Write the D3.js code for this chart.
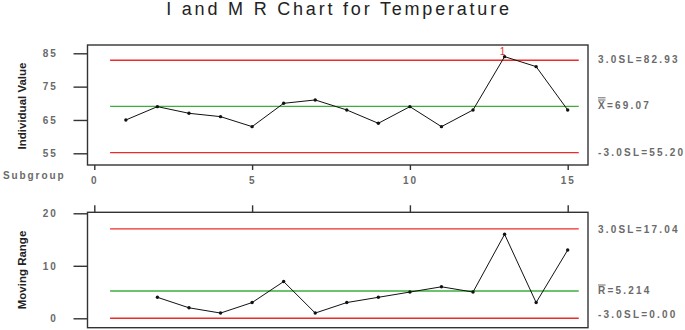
<!DOCTYPE html>
<html>
<head>
<meta charset="utf-8">
<script src="https://cdn.jsdelivr.net/npm/d3@7"></script>
<style>
  body { margin: 0; background: #fff; }
  svg text { font-family: "Liberation Sans", Arial, sans-serif; }
</style>
</head>
<body>
<svg id="chart"></svg>
<script>
// data
const subgroups = d3.range(1, 16);
const individual = [65, 69, 67, 66, 63, 70, 71, 68, 64, 69, 63, 68, 84, 81, 68];
const movingRange = [4, 2, 1, 3, 7, 1, 3, 4, 5, 6, 5, 16, 3, 13]; // subgroups 2..15
const iLimits = [82.93, 69.07, 55.20];
const iLimitLabels = ["3.0SL=82.93", "=69.07", "-3.0SL=55.20"];
const mrLimits = [17.04, 5.214, 0];
const mrLimitLabels = ["3.0SL=17.04", "=5.214", "-3.0SL=0.00"];
const xTicks = [0, 5, 10, 15];
const iTicks = [55, 65, 75, 85];
const mrTicks = [0, 10, 20];
const failed = [{ x: 13, label: "1" }];

const width = 685, height = 330;
const svg = d3.select("#chart").attr("width", width).attr("height", height);

const red = "#ee2b2b", green = "#3cae3c", labelGrey = "#6a6a6a";
const boxLeft = 87.5, boxRight = 588;

const x = d3.scaleLinear().domain([0, 15]).range([94.3, 567.7]);

// title
svg.append("text")
    .attr("x", 339).attr("y", 15)
    .attr("text-anchor", "middle")
    .attr("font-size", 18)
    .attr("letter-spacing", 2.8)
    .attr("fill", "#222")
    .text("I and M R Chart for Temperature");

function panel(opts) {
    const y = d3.scaleLinear().domain(opts.domain).range(opts.range);
    const g = svg.append("g");

    // control limits
    opts.limits.forEach((v, i) => {
        g.append("line")
            .attr("x1", x(0.5)).attr("x2", x(15.35))
            .attr("y1", y(v)).attr("y2", y(v))
            .attr("stroke", i === 1 ? green : red)
            .attr("stroke-width", 1.4);
    });

    // data line + points
    const line = d3.line().x(d => x(d.x)).y(d => y(d.v));
    g.append("path")
        .datum(opts.data)
        .attr("d", line)
        .attr("fill", "none")
        .attr("stroke", "#111")
        .attr("stroke-width", 1);
    g.selectAll("circle.pt")
        .data(opts.data)
        .enter().append("circle")
        .attr("class", "pt")
        .attr("cx", d => x(d.x)).attr("cy", d => y(d.v))
        .attr("r", 1.7)
        .attr("fill", "#111");

    // frame
    g.append("rect")
        .attr("x", boxLeft).attr("y", opts.top)
        .attr("width", boxRight - boxLeft).attr("height", opts.bottom - opts.top)
        .attr("fill", "none").attr("stroke", "#333").attr("stroke-width", 1.4);

    // y axis
    const yAxis = g.append("g")
        .attr("transform", `translate(${boxLeft},0)`)
        .call(d3.axisLeft(y).tickValues(opts.ticks).tickSize(14).tickPadding(16));
    yAxis.select(".domain").remove();
    yAxis.selectAll("line").attr("stroke", "#333").attr("stroke-width", 1.4);
    yAxis.selectAll("text")
        .attr("font-size", 10).attr("font-weight", "bold")
        .attr("letter-spacing", 1.8).attr("fill", labelGrey);

    // y title
    g.append("text")
        .attr("transform", `translate(26,${opts.titleY}) rotate(-90)`)
        .attr("text-anchor", "middle")
        .attr("font-size", 11.5).attr("font-weight", "bold").attr("fill", "#222")
        .text(opts.title);

    // limit labels on the right
    opts.limits.forEach((v, i) => {
        const t = g.append("text")
            .attr("x", 598).attr("y", opts.labelY[i])
            .attr("font-size", 10).attr("font-weight", "bold")
            .attr("letter-spacing", 2.2).attr("fill", labelGrey);
        if (i === 1) {
            t.append("tspan").text(opts.centerSym);
            t.append("tspan").text(opts.labels[i]);
            for (let k = 0; k < opts.bars; k++) {
                g.append("line")
                    .attr("x1", 598).attr("x2", 605.5)
                    .attr("y1", opts.labelY[i] - 9 - k * 2.2)
                    .attr("y2", opts.labelY[i] - 9 - k * 2.2)
                    .attr("stroke", labelGrey).attr("stroke-width", 1);
            }
        } else {
            t.text(opts.labels[i]);
        }
    });
    return { g, y };
}

const topPanel = panel({
    domain: [55, 85], range: [153.3, 53.3],
    top: 45, bottom: 165,
    ticks: iTicks, limits: iLimits, labels: iLimitLabels,
    labelY: [63, 109, 156], centerSym: "X", bars: 2,
    data: individual.map((v, i) => ({ x: subgroups[i], v })),
    title: "Individual Value", titleY: 106
});

// x axis under the top panel
const xAxis = svg.append("g")
    .attr("transform", "translate(0,165)")
    .call(d3.axisBottom(x).tickValues(xTicks).tickSize(5).tickPadding(7));
xAxis.select(".domain").remove();
xAxis.selectAll("line").attr("stroke", "#333").attr("stroke-width", 1.4);
xAxis.selectAll("text")
    .attr("font-size", 10).attr("font-weight", "bold")
    .attr("letter-spacing", 1.8).attr("fill", labelGrey);
svg.append("text")
    .attr("x", 3).attr("y", 179)
    .attr("font-size", 10).attr("font-weight", "bold")
    .attr("letter-spacing", 1.9).attr("fill", labelGrey)
    .text("Subgroup");

// failed test markers
topPanel.g.selectAll("text.fail")
    .data(failed)
    .enter().append("text")
    .attr("class", "fail")
    .attr("x", d => x(d.x) - 2)
    .attr("y", d => topPanel.y(individual[d.x - 1]) - 2)
    .attr("text-anchor", "middle")
    .attr("font-size", 10).attr("fill", red)
    .text(d => d.label);

const bottomPanel = panel({
    domain: [0, 20], range: [318.3, 213.3],
    top: 212.3, bottom: 327.7,
    ticks: mrTicks, limits: mrLimits, labels: mrLimitLabels,
    labelY: [232.7, 294, 317.7], centerSym: "R", bars: 1,
    data: movingRange.map((v, i) => ({ x: subgroups[i + 1], v })),
    title: "Moving Range", titleY: 270
});

// x ticks on top of the bottom panel
const xAxis2 = svg.append("g")
    .attr("transform", "translate(0,212.3)")
    .call(d3.axisTop(x).tickValues(xTicks).tickSize(7).tickFormat(""));
xAxis2.select(".domain").remove();
xAxis2.selectAll("line").attr("stroke", "#333").attr("stroke-width", 1.4);
</script>
</body>
</html>
